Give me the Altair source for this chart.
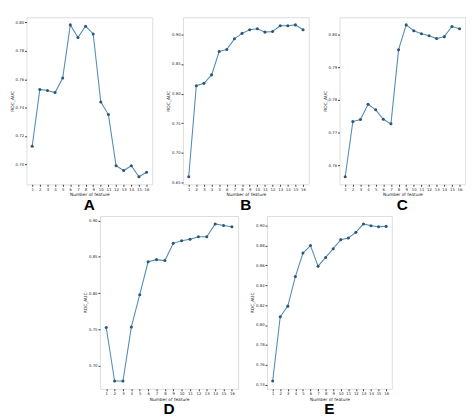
import altair as alt
import pandas as pd

features = list(range(1, 17))

auc_a = [0.7128, 0.7528, 0.7521, 0.7506, 0.7609, 0.7983, 0.7894, 0.7974,
         0.7919, 0.7440, 0.7351, 0.6991, 0.6957, 0.6991, 0.6913, 0.6945]
auc_b = [0.660, 0.8133, 0.8173, 0.8316, 0.8709, 0.8745, 0.8923, 0.9015,
         0.9077, 0.9092, 0.9036, 0.9046, 0.9143, 0.9143, 0.9158, 0.9077]
auc_c = [0.7565, 0.7734, 0.7740, 0.7787, 0.7770, 0.7741, 0.7727, 0.7954,
         0.8030, 0.8012, 0.8003, 0.7997, 0.7988, 0.7994, 0.8025, 0.8018]
auc_d = [0.7526, 0.6789, 0.6789, 0.7534, 0.7978, 0.8431, 0.8461, 0.8448,
         0.8685, 0.8720, 0.8741, 0.8776, 0.8776, 0.8953, 0.8931, 0.8914]
auc_e = [0.7438, 0.8083, 0.8190, 0.8487, 0.8723, 0.8798, 0.8591, 0.8679,
         0.8767, 0.8858, 0.8874, 0.8931, 0.9016, 0.8997, 0.8987, 0.8991]

ticks_a = [0.70, 0.72, 0.74, 0.76, 0.78, 0.80]
ticks_b = [0.65, 0.70, 0.75, 0.80, 0.85, 0.90]
ticks_c = [0.76, 0.77, 0.78, 0.79, 0.80]
ticks_d = [0.70, 0.75, 0.80, 0.85, 0.90]
ticks_e = [0.74, 0.76, 0.78, 0.80, 0.82, 0.84, 0.86, 0.88, 0.90]

LINE = "#4f8db5"
DOT = "#2f5575"


def panel(values, ticks, letter, width, height):
    df = pd.DataFrame({"n": features, "auc": values})
    lo, hi = min(values), max(values)
    pad = (hi - lo) * 0.05
    x = alt.X("n:Q", scale=alt.Scale(domain=[0.25, 16.75], nice=False, zero=False),
              axis=alt.Axis(values=features, title="Number of feature", grid=False,
                            labelFontSize=4, titleFontSize=4.5, tickSize=2,
                            labelPadding=1, titlePadding=1, titleFontWeight="normal",
                            domain=False, tickColor="#333", labelColor="#222",
                            titleColor="#222"))
    y = alt.Y("auc:Q", scale=alt.Scale(domain=[lo - pad, hi + pad], nice=False, zero=False),
              axis=alt.Axis(values=ticks, format=".2f", title="ROC_AUC", grid=False,
                            labelFontSize=4, titleFontSize=4.5, tickSize=2,
                            labelPadding=1, titlePadding=1, titleFontWeight="normal",
                            domain=False, tickColor="#333", labelColor="#222",
                            titleColor="#222"))
    base = alt.Chart(df).encode(x=x, y=y)
    line = base.mark_line(color=LINE, strokeWidth=1.1)
    pts = base.mark_point(filled=True, color=DOT, size=10, opacity=1)
    return alt.layer(line, pts).properties(
        width=width, height=height,
        title=alt.TitleParams(text=letter, orient="bottom", fontSize=16,
                              fontWeight="bold", font="Liberation Sans",
                              offset=1, anchor="middle", frame="group",
                              color="#000"))


top = alt.hconcat(
    panel(auc_a, ticks_a, "A", 131, 174),
    panel(auc_b, ticks_b, "B", 131, 174),
    panel(auc_c, ticks_c, "C", 131, 174),
    spacing=12,
)
bottom = alt.hconcat(
    panel(auc_d, ticks_d, "D", 144, 180),
    panel(auc_e, ticks_e, "E", 130, 180),
    spacing=10,
)

chart = alt.vconcat(top, bottom, spacing=2, center=True).properties(
    padding={"left": 0, "top": 0, "right": 0, "bottom": 0}
).configure_view(
    stroke="#9a9a9a", strokeWidth=1.5
).configure(font="DejaVu Sans")

chart.save("out.html", embed_options={"renderer": "svg", "actions": False})
